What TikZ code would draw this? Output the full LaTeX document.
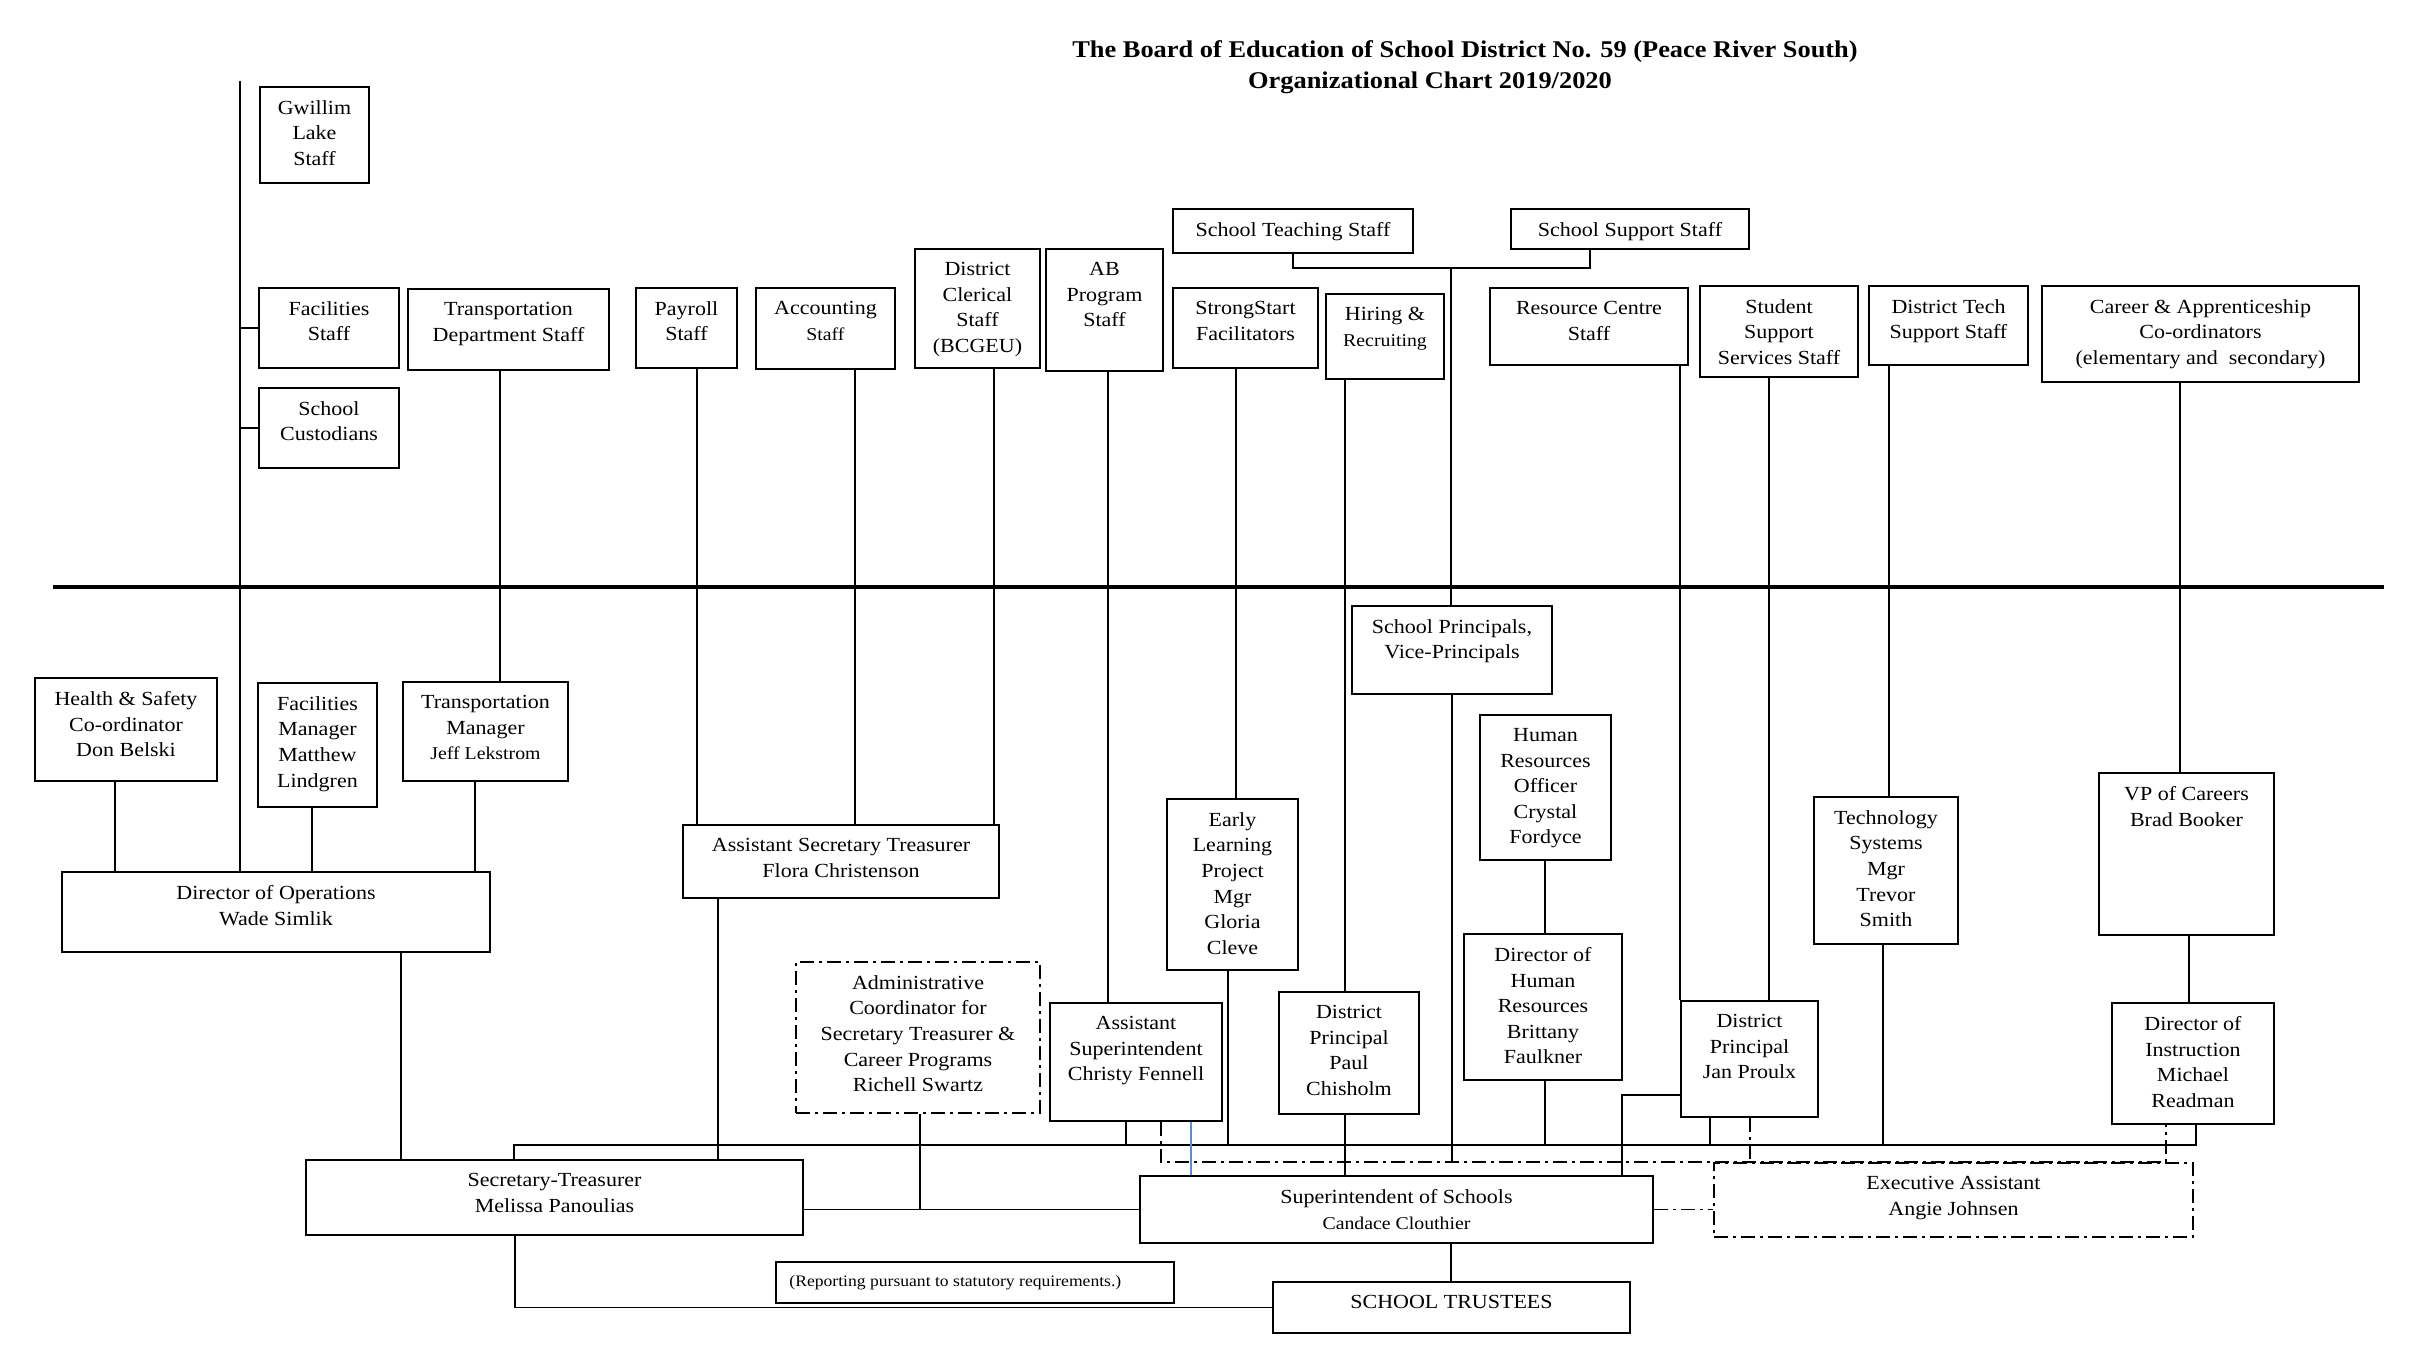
\documentclass[tikz,border=0pt]{standalone}
\usepackage{fontspec}
\setmainfont{Liberation Serif}[FakeStretch=1.1]
\usetikzlibrary{fit}
\tikzset{
  bx/.style={draw, line width=1pt, inner sep=0pt},
  ddbox/.style={draw, line width=1pt, inner sep=0pt, dash pattern=on 7pt off 2.5pt on 1.5pt off 2.5pt},
  txt/.style={anchor=north, align=center, inner sep=0pt, font=\fontsize{10}{12.8}\selectfont},
  ln/.style={line width=0.7pt},
  dd/.style={line width=0.7pt, dash pattern=on 7pt off 2.5pt on 1.5pt off 2.5pt},
  blueln/.style={line width=0.7pt, draw={rgb,255:red,91;green,139;blue,208}},
}
\newcommand\orgbox[7][bx]{%
  \node[#1,fit={(#3,#4) (#5,#6)}] (#2) {};
  \node[txt] (#2-t) at ([yshift=-7pt]#2.north) {#7};}
\newcommand\smf{\fontsize{9}{11}\selectfont}
\begin{document}
\begin{tikzpicture}[x=0.5pt,y=-0.5pt]
\useasboundingbox (0,0) rectangle (2422,1370);
% title
\node[inner sep=0pt, font=\bfseries\fontsize{12}{15}\selectfont] (title1) at (1465,52) {The Board of Education of School District No. 59 (Peace River South)};
\node[inner sep=0pt, font=\bfseries\fontsize{12}{15}\selectfont] (title2) at (1430,83) {Organizational Chart 2019/2020};
% upper boxes
\orgbox{gwillim}{260}{87}{369}{183}{Gwillim\\Lake\\Staff}
\orgbox{facstaff}{259}{288}{399}{368}{Facilities\\Staff}
\orgbox{custod}{259}{388}{399}{468}{School\\Custodians}
\orgbox{transdept}{408}{289}{609}{370}{Transportation\\Department Staff}
\orgbox{payroll}{636}{288}{737}{368}{Payroll\\Staff}
\orgbox{accounting}{756}{288}{895}{369}{Accounting\\{\smf Staff}}
\orgbox{clerical}{915}{249}{1040}{368}{District\\Clerical\\Staff\\(BCGEU)}
\orgbox{abprog}{1046}{249}{1163}{371}{AB\\Program\\Staff}
\orgbox{teaching}{1173}{209}{1413}{253}{School Teaching Staff}
\orgbox{support}{1511}{209}{1749}{249}{School Support Staff}
\orgbox{strongstart}{1173}{288}{1318}{368}{StrongStart\\Facilitators}
\orgbox{hiring}{1326}{294}{1444}{379}{Hiring \&\\{\smf Recruiting}}
\orgbox{resource}{1490}{288}{1688}{365}{Resource Centre\\Staff}
\orgbox{studsupp}{1700}{286}{1858}{377}{Student\\Support\\Services Staff}
\orgbox{disttech}{1869}{286}{2028}{365}{District Tech\\Support Staff}
\orgbox{career}{2042}{286}{2359}{382}{Career \& Apprenticeship\\Co-ordinators\\(elementary and~ secondary)}
% divider
\coordinate (divL) at (53,587);
\coordinate (divR) at (2384,587);
\draw[line width=2.2pt] (divL) -- (divR);
% lower boxes
\orgbox{principals}{1352}{606}{1552}{694}{School Principals,\\Vice-Principals}
\orgbox{hs}{35}{678}{217}{781}{Health \& Safety\\Co-ordinator\\Don Belski}
\orgbox{facmgr}{258}{683}{377}{807}{Facilities\\Manager\\Matthew\\Lindgren}
\orgbox{transmgr}{403}{682}{568}{781}{Transportation\\Manager\\{\smf Jeff Lekstrom}}
\orgbox{dirops}{62}{872}{490}{952}{Director of Operations\\Wade Simlik}
\orgbox{ast}{683}{825}{999}{898}{Assistant Secretary Treasurer\\Flora Christenson}
\orgbox{early}{1167}{799}{1298}{970}{Early\\Learning\\Project\\Mgr\\Gloria\\Cleve}
\orgbox{hro}{1480}{715}{1611}{860}{Human\\Resources\\Officer\\Crystal\\Fordyce}
\orgbox{techmgr}{1814}{797}{1958}{944}{Technology\\Systems\\Mgr\\Trevor\\Smith}
\orgbox{vp}{2099}{773}{2274}{935}{VP of Careers\\Brad Booker}
\orgbox[ddbox]{admin}{796}{962}{1040}{1113}{Administrative\\Coordinator for\\Secretary Treasurer \&\\Career Programs\\Richell Swartz}
\orgbox{asupt}{1050}{1003}{1222}{1121}{Assistant\\Superintendent\\Christy Fennell}
\orgbox{dpaul}{1279}{992}{1419}{1114}{District\\Principal\\Paul\\Chisholm}
\orgbox{dirhr}{1464}{934}{1622}{1080}{Director of\\Human\\Resources\\Brittany\\Faulkner}
\orgbox{djan}{1681}{1001}{1818}{1117}{District\\Principal\\Jan Proulx}
\orgbox{dirinst}{2112}{1003}{2274}{1124}{Director of\\Instruction\\Michael\\Readman}
\orgbox{sectreas}{306}{1160}{803}{1235}{Secretary-Treasurer\\Melissa Panoulias}
\orgbox{supt}{1140}{1176}{1653}{1243}{Superintendent of Schools\\{\smf Candace Clouthier}}
\orgbox[ddbox]{ea}{1714}{1163}{2193}{1237}{Executive Assistant\\Angie Johnsen}
\orgbox{trustees}{1273}{1282}{1630}{1333}{SCHOOL TRUSTEES}
\node[bx, fit={(776,1262) (1174,1303)}] (report) {};
\node[anchor=west, inner sep=0pt, font=\fontsize{8}{10}\selectfont] (report-t) at ([xshift=7pt]report.west) {(Reporting pursuant to statutory requirements.)};
% connectors, top half
\coordinate (vtop) at (240,81);
\draw[ln] (vtop) -- (240,0 |- dirops.north);
\draw[ln] (240,0 |- facstaff.west) -- (facstaff.west);
\draw[ln] (240,0 |- custod.west) -- (custod.west);
\draw[ln] (500,0 |- transdept.south) -- (500,0 |- transmgr.north);
\draw[ln] (697,0 |- payroll.south) -- (697,0 |- ast.north);
\draw[ln] (855,0 |- accounting.south) -- (855,0 |- ast.north);
\draw[ln] (994,0 |- clerical.south) -- (994,0 |- ast.north);
\draw[ln] (1108,0 |- abprog.south) -- (1108,0 |- asupt.north);
\coordinate (brk) at (1451,268);
\draw[ln] (1293,0 |- teaching.south) |- (brk) -| (1590,0 |- support.south);
\draw[ln] (brk) -- (brk |- principals.north);
\draw[ln] (1236,0 |- strongstart.south) -- (1236,0 |- early.north);
\draw[ln] (1345,0 |- hiring.south) -- (1345,0 |- dpaul.north);
\draw[ln] (1680,0 |- resource.south) -- (1680,0 |- djan.north);
\draw[ln] (1769,0 |- studsupp.south) -- (1769,0 |- djan.north);
\draw[ln] (1889,0 |- disttech.south) -- (1889,0 |- techmgr.north);
\draw[ln] (2180,0 |- career.south) -- (2180,0 |- vp.north);
% connectors, lower half
\draw[ln] (115,0 |- hs.south) -- (115,0 |- dirops.north);
\draw[ln] (312,0 |- facmgr.south) -- (312,0 |- dirops.north);
\draw[ln] (475,0 |- transmgr.south) -- (475,0 |- dirops.north);
\draw[ln] (401,0 |- dirops.south) -- (401,0 |- sectreas.north);
\draw[ln] (718,0 |- ast.south) -- (718,0 |- sectreas.north);
\draw[ln] (1545,0 |- hro.south) -- (1545,0 |- dirhr.north);
\draw[ln] (2189,0 |- vp.south) -- (2189,0 |- dirinst.north);
\coordinate (bus) at (0,1145);
\draw[ln] (514,0 |- sectreas.north) -- (514,0 |- bus) -- (2196,0 |- bus) -- (2196,0 |- dirinst.south);
\draw[ln] (1126,0 |- asupt.south) -- (1126,0 |- bus);
\draw[ln] (1228,0 |- early.south) -- (1228,0 |- bus);
\draw[ln] (1545,0 |- dirhr.south) -- (1545,0 |- bus);
\draw[ln] (1710,0 |- djan.south) -- (1710,0 |- bus);
\draw[ln] (1883,0 |- techmgr.south) -- (1883,0 |- bus);
\draw[ln] (principals.south) -- (principals.south |- ea.north);
\draw[ln] (1345,0 |- dpaul.south) -- (1345,0 |- supt.north);
\draw[ln] (djan.west |- 0,1095) -| (1622,0 |- supt.north);
\draw[blueln] (1191,0 |- asupt.south) -- (1191,0 |- supt.north);
\draw[dd] (1161,0 |- asupt.south) -- (1161,0 |- ea.north) -- (2166,0 |- ea.north) -- (2166,0 |- dirinst.south);
\draw[dd] (1750,0 |- djan.south) -- (1750,0 |- ea.north);
\draw[dd] (supt.east) -- (ea.west |- supt.east);
\draw[ln] (sectreas.east |- supt.west) -- (supt.west);
\draw[ln] (920,0 |- admin.south) -- (920,0 |- supt.west);
\draw[ln] (1451,0 |- supt.south) -- (1451,0 |- trustees.north);
\draw[ln] (515,0 |- sectreas.south) |- (trustees.west);
\end{tikzpicture}
\end{document}
